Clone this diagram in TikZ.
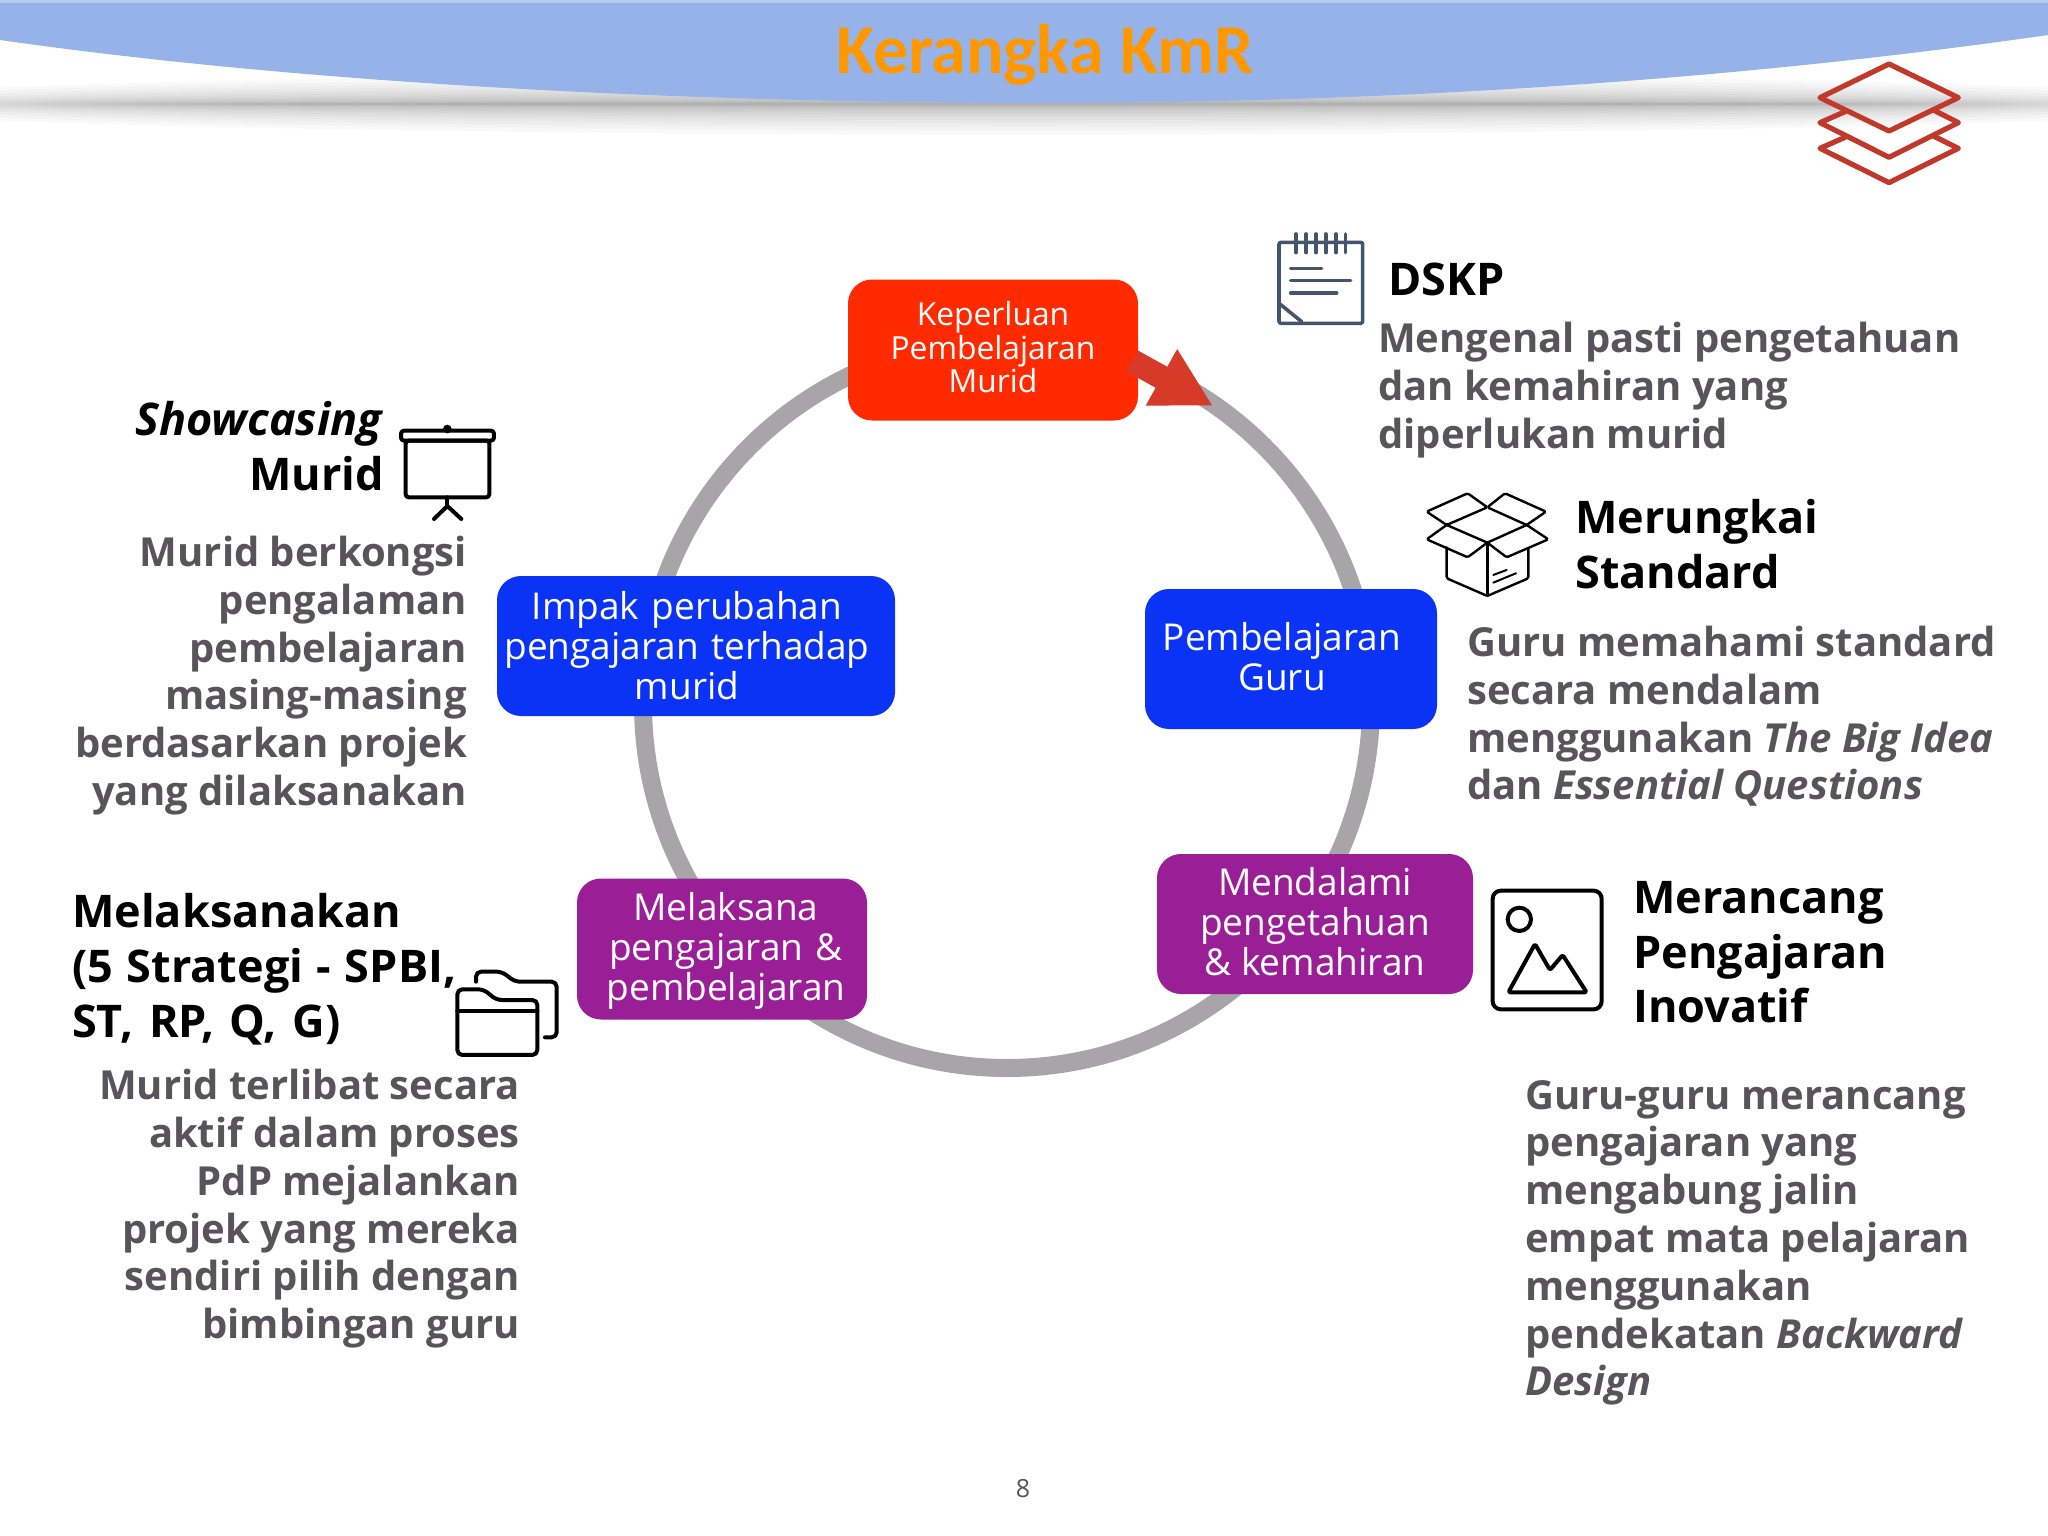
\documentclass[tikz,border=0pt]{standalone}
\usepackage{fontspec}
\setmainfont{Open Sans}
\newfontfamily\titlefont{Carlito}
\usetikzlibrary{arrows.meta,calc}
\definecolor{bandblue}{HTML}{95B3E8}
\definecolor{bandtop}{HTML}{B8CCF0}
\definecolor{titleorange}{HTML}{FF9800}
\definecolor{ringgray}{HTML}{A7A5A8}
\definecolor{keyred}{HTML}{FF2A00}
\definecolor{boxblue}{HTML}{0A33F5}
\definecolor{boxpurple}{HTML}{9A1F96}
\definecolor{arrowred}{HTML}{D63A28}
\definecolor{bodygray}{HTML}{58555A}
\definecolor{noteslate}{HTML}{44546A}
\definecolor{layerred}{HTML}{C0392B}
\newcommand{\lift}{\rule[-6pt]{0pt}{6pt}}
\tikzset{
  x=1pt,y=-1pt,
  stepbox/.style={rectangle,rounded corners=24pt,text=white,inner sep=0pt,align=center,
    font=\fontsize{37}{40}\selectfont},
  smallbox/.style={stepbox,font=\fontsize{31.8}{33.5}\selectfont},
  bodytext/.style={inner sep=0pt,text=bodygray,anchor=north west,align=left,
    font=\fontsize{40}{47.8}\selectfont\bfseries},
  bodyright/.style={bodytext,anchor=north east,align=right},
  headtext/.style={inner sep=0pt,text=black,anchor=north west,align=left,
    font=\fontsize{45}{54.8}\selectfont\bfseries},
  headright/.style={headtext,anchor=north east,align=right},
  iconblack/.style={draw=black,line width=3.4pt,line join=round,line cap=round,rounded corners=1.5pt},
}
\begin{document}
\begin{tikzpicture}
\useasboundingbox (0,0) rectangle (2048,1536);
\fill[white] (0,0) rectangle (2048,1536);
% soft shadow under the band
\foreach \i in {1,...,14}{
  \fill[black,opacity=0.022] (1024,104) ellipse ({1250-\i*32} and {34*(1-\i/15)*(1-\i/15)+1});
}
% header band
\fill[bandtop] (0,0) rectangle (2048,3);
\fill[bandblue] (0,3) -- (2048,3) -- (2048,35) .. controls (1700,85) and (1350,103) .. (1040,103)
   .. controls (760,103) and (350,90) .. (0,40) -- cycle;
\node[inner sep=0pt,text=titleorange,font=\titlefont\bfseries\fontsize{70}{70}\selectfont] (title) at (1045,55) {Kerangka KmR};
% layers icon
\begin{scope}[shift={(1790,50)},x=0.3333pt,y=-0.3333pt,draw=layerred,line width=5.2pt,line join=round,line cap=round]
\draw (297,42) -- (505,143) -- (297,243) -- (90,143) -- cycle;
\draw (165,185) -- (90,218) -- (297,322) -- (505,218) -- (430,180);
\draw (165,262) -- (90,295) -- (297,398) -- (505,295) -- (430,258);
\end{scope}
% ring
\draw[ringgray,line width=18pt] (1007,704) circle (364);
% step boxes
\node[stepbox,smallbox,fill=keyred,minimum width=290pt,minimum height=141pt] (kep) at (993,350) {Keperluan\\Pembelajaran\\Murid\lift};
\node[stepbox,fill=boxblue,minimum width=398pt,minimum height=140pt,text width=380pt] (impak) at (696,646) {\hspace*{-18pt}Impak perubahan\\\hspace*{-18pt}pengajaran terhadap\\\hspace*{-18pt}murid};
\node[stepbox,fill=boxblue,minimum width=292pt,minimum height=140pt,text width=280pt] (guru) at (1291,659) {\hspace*{-18pt}Pembelajaran\\\hspace*{-18pt}Guru\lift};
\node[stepbox,fill=boxpurple,minimum width=316pt,minimum height=140pt] (dalam) at (1315,924) {Mendalami\\pengetahuan\\\& kemahiran\lift};
\node[stepbox,fill=boxpurple,minimum width=290pt,minimum height=141pt,text width=270pt] (laksana) at (722,949) {\hspace*{8pt}\rule{0pt}{32pt}Melaksana\\\hspace*{8pt}pengajaran \&\\\hspace*{8pt}pembelajaran};
% red arrow
\coordinate (tip) at (1213,406);
\draw[arrowred,line width=24pt,-{Triangle[length=59pt,width=60pt]}] ([shift={(-6,11)}]kep.east) -- (tip);
% DSKP
\begin{scope}[shift={(1240,210)},x=0.3333pt,y=-0.3333pt,draw=noteslate,line width=3.6pt,line cap=round,line join=round]
\draw[rounded corners=2pt] (117,97) rectangle (368,340);
\foreach \tx in {168,198,228,258,288,316}{\draw (\tx,72) -- (\tx,128);}
\draw (152,175) -- (245,175);
\draw (152,212) -- (332,212);
\draw (152,249) -- (290,249);
\draw (117,280) -- (185,335);
\end{scope}
\node[headtext] (h1) at (1388,263) {DSKP};
\node[bodytext] (b1) at (1378,322) {Mengenal pasti pengetahuan\\dan kemahiran yang\\diperlukan murid};
% box icon
\begin{scope}[shift={(1240,210)},x=0.3333pt,y=-0.3333pt]
\draw[iconblack,line width=2.4pt] (560,905) -- (683,850) -- (742,892) -- (620,945) -- cycle;
\draw[iconblack,line width=2.4pt] (742,892) -- (795,850) -- (918,905) -- (860,945) -- cycle;
\draw[iconblack,line width=2.4pt] (620,945) -- (560,988) -- (683,1042) -- (742,998) -- (860,945);
\draw[iconblack,line width=2.4pt] (620,945) -- (742,998) -- (800,1042) -- (925,988) -- (860,945);
\draw[iconblack,line width=2.4pt] (620,1012) -- (620,1105) -- (742,1158) -- (865,1105) -- (865,1015);
\draw[iconblack,line width=2.4pt] (742,998) -- (742,1158);
\draw[iconblack,line width=2pt] (760,1095) -- (800,1080);
\draw[iconblack,line width=2pt] (760,1118) -- (828,1090);
\end{scope}
\node[headtext] (h2) at (1575,499) {Merungkai\\Standard};
\node[bodytext] (b2) at (1467,626) {Guru memahami standard\\secara mendalam\\menggunakan \textit{The Big Idea}\\dan \textit{Essential Questions}};
% picture icon
\begin{scope}[shift={(1470,870)},x=0.3333pt,y=-0.3333pt]
\draw[iconblack,line width=4pt,rounded corners=8pt] (68,62) rectangle (395,418);
\draw[iconblack,line width=4pt] (148,148) circle (35);
\draw[iconblack,line width=4pt] (115,367) -- (195,222) -- (240,300) -- (278,255) -- (350,367) -- cycle;
\end{scope}
\node[headtext] (h3) at (1633,881) {Merancang\\Pengajaran\\Inovatif};
\node[bodytext] (b3) at (1525,1080) {Guru-guru merancang\\pengajaran yang\\mengabung jalin\\empat mata pelajaran\\menggunakan\\pendekatan \textit{Backward}\\\textit{Design}};
% projector icon
\begin{scope}[shift={(380,400)},x=0.3333pt,y=-0.3333pt]
\fill[black] (202,87) circle (13);
\draw[iconblack,line width=4pt,rounded corners=3pt] (63,92) rectangle (342,122);
\draw[iconblack,line width=4pt,rounded corners=3pt] (77,122) rectangle (328,292);
\draw[iconblack,line width=4pt] (202,292) -- (202,318);
\draw[iconblack,line width=4pt] (162,357) -- (202,318) -- (244,357);
\end{scope}
\node[headright] (h4) at (384,401) {\textit{Showcasing}\\Murid};
\node[bodyright] (b4) at (467,536) {Murid berkongsi\\pengalaman\\pembelajaran\\masing-masing\\berdasarkan projek\\yang dilaksanakan};
% folder icon
\begin{scope}[shift={(440,950)},x=0.3333pt,y=-0.3333pt]
\draw[iconblack,line width=4pt,rounded corners=5pt] (52,118) -- (130,118) -- (170,150) -- (292,150) -- (292,315) -- (52,315) -- cycle;
\draw[iconblack,line width=4pt] (52,183) -- (292,183);
\draw[iconblack,line width=4pt,rounded corners=5pt] (108,95) -- (108,65) -- (185,65) -- (225,95) -- (350,95) -- (350,262) -- (315,262);
\end{scope}
\node[headtext] (h5) at (72,893) {Melaksanakan\\(5\hspace{2pt} Strategi\hspace{2pt} -\hspace{2pt} SPBI,\\ST,\hspace{4pt} RP,\hspace{4pt} Q,\hspace{4pt} G)};
\node[bodyright] (b5) at (520,1069) {Murid terlibat secara\\aktif dalam proses\\PdP mejalankan\\projek yang mereka\\sendiri pilih dengan\\bimbingan guru};
% page number
\node[inner sep=0pt,text=bodygray,font=\fontsize{25}{30}\selectfont] (pg) at (1023,1489) {8};
\end{tikzpicture}
\end{document}
